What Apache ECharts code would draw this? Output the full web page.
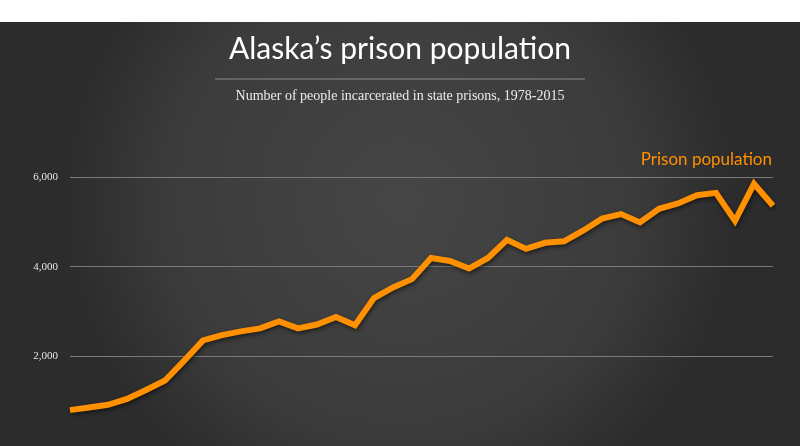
<!DOCTYPE html>
<html>
<head>
<meta charset="utf-8">
<script src="https://cdn.jsdelivr.net/npm/echarts@6/dist/echarts.min.js"></script>
<style>html,body{margin:0;padding:0;background:#fff}#main{width:800px;height:446px}</style>
</head>
<body>
<div id="main"></div>
<script>
// years 1978-2015
var years = [];
for (var y = 1978; y <= 2015; y++) years.push(String(y));
var prisoners = [800, 860, 920, 1050, 1250, 1460, 1900, 2354, 2473, 2557, 2624, 2776, 2624, 2709, 2878, 2692,
  3300, 3536, 3722, 4194, 4127, 3958, 4194, 4599, 4397, 4532, 4565, 4802, 5072, 5173, 4987, 5291, 5409, 5595, 5646, 5021, 5848, 5359];
var yTicks = [2000, 4000, 6000];

var myChart = echarts.init(document.getElementById('main'));
myChart.setOption({
  backgroundColor: {
    type: 'radial', x: 0.5, y: 0.45, r: 0.75,
    colorStops: [{offset: 0, color: '#464646'}, {offset: 0.7, color: '#3b3b3b'}, {offset: 1, color: '#2c2c2c'}]
  },
  animation: false,
  grid: {left: 70, width: 703, top: 177, height: 355.5},
  xAxis: {
    type: 'category', data: years, boundaryGap: false,
    axisLine: {show: false}, axisTick: {show: false}, axisLabel: {show: false}
  },
  yAxis: {
    type: 'value', min: 0, max: 6000, interval: 2000,
    axisLine: {show: false}, axisTick: {show: false},
    splitLine: {lineStyle: {color: '#7a7a7a', width: 1}},
    axisLabel: {
      color: '#e6e6e6', fontSize: 11, fontFamily: 'Liberation Serif', margin: 12,
      formatter: function (v) { return yTicks.indexOf(v) >= 0 ? v.toLocaleString('en-US') : ''; }
    }
  },
  series: [{
    type: 'line', data: prisoners, symbol: 'none',
    lineStyle: {color: '#ff9000', width: 6, join: 'miter',
      shadowColor: 'rgba(0,0,0,0.55)', shadowBlur: 4, shadowOffsetX: 1, shadowOffsetY: 2}
  }],
  graphic: [
    {type: 'rect', left: 0, top: 0, shape: {width: 800, height: 22}, style: {fill: '#ffffff'}, z: 100},
    {type: 'text', left: 'center', top: 34, style: {text: 'Alaska\u2019s prison population', fill: '#ffffff',
      font: '30px Lato', letterSpacing: 2}},
    {type: 'line', shape: {x1: 215, y1: 79, x2: 585, y2: 79}, style: {stroke: '#8a8a8a', lineWidth: 1}},
    {type: 'text', left: 'center', top: 89, style: {text: 'Number of people incarcerated in state prisons, 1978-2015',
      fill: '#ececec', font: '14px "Liberation Serif"'}},
    {type: 'text', right: 28, top: 151, style: {text: 'Prison population', fill: '#ff9000', font: '17px Lato'}}
  ]
});
</script>
</body>
</html>
